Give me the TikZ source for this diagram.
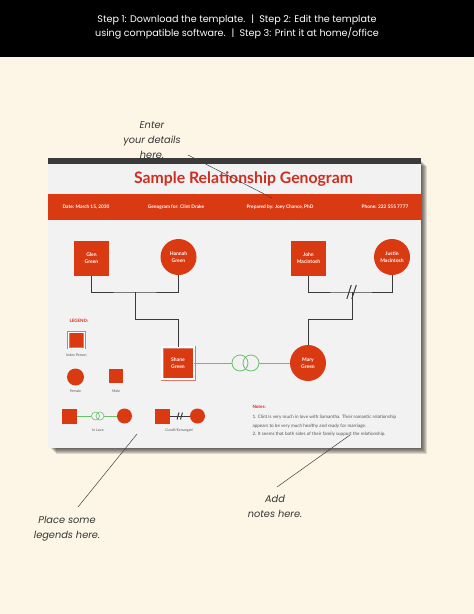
\documentclass[tikz,border=0pt]{standalone}
\usepackage{fontspec}
\setmainfont{Lato}
\newfontfamily\poppins{Poppins}
\usetikzlibrary{positioning, calc}

\definecolor{CreamBg}{HTML}{FDF6E6}
\definecolor{GenoRed}{HTML}{D93A12}
\definecolor{TitleRed}{HTML}{CE2E1F}
\definecolor{CardGray}{HTML}{F2F2F2}
\definecolor{BarGray}{HTML}{3A3A3A}
\definecolor{LoveGreen}{HTML}{6CC06C}
\definecolor{IndexPink}{HTML}{E07868}
\definecolor{NoteGray}{HTML}{555555}

\begin{document}
\begin{tikzpicture}[x=1pt, y=1pt,
  male/.style={rectangle, fill=GenoRed, minimum size=35pt, inner sep=0pt, text=white,
    font=\fontsize{5}{6.5}\selectfont\bfseries, align=center},
  female/.style={male, circle, minimum size=36pt},
  index/.style={male, minimum size=32pt, draw=IndexPink, double=white, double distance=1.4pt, line width=0.8pt},
  famline/.style={draw=BarGray, line width=1pt},
  loveline/.style={draw=LoveGreen, line width=0.8pt},
  lovering/.style={circle, draw=LoveGreen, line width=0.8pt, minimum size=16pt, inner sep=0pt},
  info/.style={font=\fontsize{4.8}{6}\selectfont\bfseries, text=white},
  legendlbl/.style={font=\fontsize{3.6}{4.5}\selectfont, text=NoteGray},
  tip/.style={font=\poppins\itshape\fontsize{9.8}{15}\selectfont, align=center, text=black!80},
  leader/.style={draw=black!75, line width=0.5pt}]
  \useasboundingbox (0,0) rectangle (474,-614);
  % Page and banner
  \fill[CreamBg] (0,0) rectangle (474,-614);
  \fill[black] (0,0) rectangle (474,-57);
  \node[font=\poppins\fontsize{9.6}{14}\selectfont, text=white, align=center] (steps) at (237,-27)
    {Step 1: Download the template. \ | \ Step 2: Edit the template\\using compatible software. \ | \ Step 3: Print it at home/office};
  % Card with shadow
  \foreach \d in {1,...,6}
    \fill[black, opacity=0.13] (50+\d,-160-\d) rectangle (421+\d,-448-\d);
  \fill[CardGray] (48,-158) rectangle (421,-448);
  \fill[BarGray] (48,-158) rectangle (421,-164);
  \fill[GenoRed] (48,-194) rectangle (421,-220);
  \node[font=\fontsize{15.8}{18}\selectfont\bfseries, text=TitleRed] (title) at (243.5,-179) {Sample Relationship Genogram};
  \node[info] (date) at (86,-207) {Date: March 15, 2030};
  \node[info] (client) at (176,-207) {Genogram for: Clint Drake};
  \node[info] (author) at (280,-207) {Prepared by: Joey Chance, PhD};
  \node[info] (phone) at (385,-207) {Phone: 222 555 7777};
  % Parents
  \node[male] (glen) at (91.5,-258) {Glen\\Green};
  \node[female] (hannah) at (178.5,-257) {Hannah\\Green};
  \node[male] (john) at (308.5,-258) {John\\Macintosh};
  \node[female] (justin) at (392,-257) {Justin\\Macintosh};
  % Couple
  \node[index] (shane) at (178,-363) {Shane\\Green};
  \node[female] (mary) at (308,-363) {Mary\\Green};
  % Family lines
  \coordinate (greens) at (135,-292);
  \draw[famline] (glen.south) |- (greens) -| (hannah.south);
  \draw[famline] (greens) -- ++(0,-27) -| (shane.north);
  \coordinate (macs) at (352,-292);
  \draw[famline] (john.south) |- (macs) -| (justin.south);
  \draw[famline] (macs) -- ++(0,-27) -| (mary.north);
  \draw[famline] ($(macs)+(-5.2,-7)$) -- ++(4.5,14);
  \draw[famline] ($(macs)+(-0.2,-7)$) -- ++(4.5,14);
  % In love
  \node[lovering] (ring1) at (240,-363) {};
  \node[lovering] (ring2) at (251,-363) {};
  \draw[loveline] (shane.east) -- (ring1.west);
  \draw[loveline] (ring2.east) -- (mary.west);
  % Legend
  \node[font=\fontsize{4.5}{5}\selectfont\bfseries, text=TitleRed, anchor=west] (legend) at (66,-321) {LEGEND:};
  \node[index, minimum size=16pt, line width=0.6pt, double distance=1pt] (lgindex) at (76.5,-340) {};
  \node[legendlbl] (lgindexlbl) at (76.5,-355) {Index Person};
  \node[female, minimum size=17pt] (lgfemale) at (75.5,-377) {};
  \node[legendlbl] (lgfemalelbl) at (75.5,-391) {Female};
  \node[male, minimum size=14pt] (lgmale) at (116,-376) {};
  \node[legendlbl] (lgmalelbl) at (116,-391) {Male};
  \node[male, minimum size=15pt] (lgloveM) at (69.5,-416) {};
  \node[female, minimum size=15pt] (lgloveF) at (124.5,-416) {};
  \node[lovering, minimum size=8pt, line width=0.6pt] (lgring1) at (95.5,-416) {};
  \node[lovering, minimum size=8pt, line width=0.6pt] (lgring2) at (100,-416) {};
  \draw[loveline] (lgloveM) -- (lgring1);
  \draw[loveline] (lgring2) -- (lgloveF);
  \node[legendlbl] (lglovelbl) at (98,-430) {In Love};
  \node[male, minimum size=15pt] (lgcutM) at (162.5,-416) {};
  \node[female, minimum size=15pt] (lgcutF) at (197.5,-416) {};
  \draw[famline] (lgcutM) -- coordinate (lgcut) (lgcutF);
  \draw[famline] ($(lgcut)+(-3,-3.5)$) -- ++(2,7);
  \draw[famline] ($(lgcut)+(0.5,-3.5)$) -- ++(2,7);
  \node[legendlbl] (lgcutlbl) at (179,-430) {Cutoff/Estranged};
  % Notes
  \node[font=\fontsize{4.5}{5}\selectfont\bfseries, text=TitleRed, anchor=west] (notes) at (249,-407) {Notes:};
  \node[anchor=north west, font=\fontsize{4.6}{8.6}\selectfont, text=NoteGray, align=left] (notetext) at (249,-411.5)
    {1. Clint is very much in love with Samantha. Their romantic relationship\\
     appears to be very much healthy and ready for marriage.\\
     2. It seems that both sides of their family support the relationship.};
  % Hints
  \node[tip] (tipdetails) at (152,-140) {Enter\\your details\\here.};
  \coordinate (detailsfrom) at (188,-155);
  \coordinate (detailsto) at (272,-198);
  \draw[leader] (detailsfrom) -- (detailsto);
  \node[tip] (tiplegend) at (67,-528.5) {Place some\\legends here.};
  \coordinate (legendfrom) at (78,-507);
  \coordinate (legendto) at (137,-434);
  \draw[leader] (legendfrom) -- (legendto);
  \node[tip] (tipnotes) at (275,-506.5) {Add\\notes here.};
  \coordinate (notesfrom) at (277,-487);
  \coordinate (notesto) at (350,-435);
  \draw[leader] (notesfrom) -- (notesto);
\end{tikzpicture}
\end{document}
